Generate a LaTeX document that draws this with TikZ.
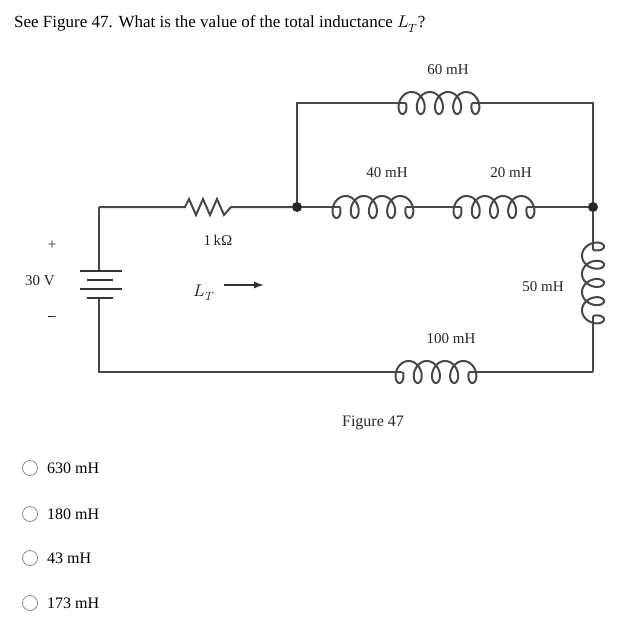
\documentclass[tikz,border=0pt]{standalone}
\usepackage{fontspec}
\setmainfont{Liberation Serif}
\usepackage{unicode-math}
\setmathfont{Latin Modern Math}
\usetikzlibrary{arrows.meta}
\begin{document}
\begin{tikzpicture}[x=1pt,y=-1pt,
  wire/.style={draw=black!72,line width=2pt},
  lbl/.style={font=\fontsize{15}{17}\selectfont,text=black!85,inner sep=0pt},
  txt/.style={font=\fontsize{17}{20}\selectfont,inner sep=0pt,anchor=west},
  dot/.style={circle,fill=black!85,minimum size=10pt,inner sep=0pt},
  radio/.style={circle,draw=black!45,line width=0.8pt,minimum size=15pt,inner sep=0pt}]
\useasboundingbox (0,0) rectangle (631,632);
\newcommand{\hcoil}[2]{\draw[wire,line join=round] plot[domain=-0.5*pi:8.5*pi,samples=260,smooth] ({#1+2.9*\x-8*sin(\x r)},{#2+11*cos(\x r)+4*(1-abs(cos(\x r)))*0});}
\newcommand{\vcoil}[2]{\draw[wire,line join=round] plot[domain=-0.5*pi:8.5*pi,samples=260,smooth] ({#1+11*cos(\x r)},{#2+2.9*\x-8*sin(\x r)});}
% question
\node[txt] (q) at (14,24) {See Figure 47. What is the value of the total inductance $L_T$?};
% nodes
\node[dot] (A) at (297,207) {};
\node[dot] (B) at (593,207) {};
\coordinate (tl) at (99,207);
\coordinate (bl) at (99,372);
\coordinate (br) at (593,372);
\coordinate (btop) at (99,271);
\coordinate (bbot) at (99,298);
% top branch
\coordinate (c60a) at (406,103); \coordinate (c60b) at (472,103);
\draw[wire] (A) |- (c60a);
\draw[wire] (c60b) -| (B);
\hcoil{402.5}{103}
% middle branch
\coordinate (c40a) at (340,207); \coordinate (c40b) at (406,207);
\coordinate (c20a) at (461,207); \coordinate (c20b) at (527,207);
\draw[wire] (A) -- (c40a);
\hcoil{336.5}{207}
\draw[wire] (c40b) -- (c20a);
\hcoil{457.5}{207}
\draw[wire] (c20b) -- (B);
% resistor
\coordinate (ra) at (185,207); \coordinate (rb) at (231,207);
\draw[wire,line join=miter] (tl) -- (ra) -- (189,199) -- (196,215) -- (203,199) -- (210,215) -- (217,199) -- (224,215) -- (rb) -- (A);
% battery
\draw[wire] (btop) -- (tl);
\draw[wire] (bbot) -- (bl) -- (402,372);
\draw[black!80,line width=2.4pt] (80,271) -- (122,271);
\draw[black!80,line width=2.4pt] (87,280) -- (113,280);
\draw[black!80,line width=2.4pt] (80,289) -- (122,289);
\draw[black!80,line width=2.4pt] (87,298) -- (113,298);
% bottom coil
\hcoil{399.5}{372}
\draw[wire] (469,372) -- (br);
% right coil
\draw[wire] (B) -- (593,250);
\vcoil{593}{246.5}
\draw[wire] (593,315.5) -- (br);
% labels
\node[lbl] (l60) at (448,70) {60 mH};
\node[lbl] (l40) at (387,173) {40 mH};
\node[lbl] (l20) at (511,173) {20 mH};
\node[lbl] (l1k) at (218,240) {1\,kΩ};
\node[lbl] (l50) at (543,287) {50 mH};
\node[lbl] (l100) at (451,339) {100 mH};
\node[lbl] (l30) at (40,281) {30 V};
\node[lbl] (lp) at (52,245) {+};
\node[lbl] (lm) at (52,318) {\textbf{–}};
\node[lbl,font=\fontsize{17}{19}\selectfont] (LT) at (204,293) {$L_T$};
\coordinate (ar1) at (224,285); \coordinate (ar2) at (264,285);
\draw[black!80,line width=1.4pt,-{Latex[length=10pt,width=7pt]}] (ar1) -- (ar2);
\node[lbl,font=\fontsize{16}{18}\selectfont] (fig) at (373,423) {Figure 47};
% options
\foreach \y/\t [count=\i] in {468/630 mH,514/180 mH,558/43 mH,603/173 mH}{
  \node[radio] (r\i) at (30,\y) {};
  \node[txt,font=\fontsize{16}{18}\selectfont] (o\i) at (47,\y) {\t};
}
\end{tikzpicture}
\end{document}
